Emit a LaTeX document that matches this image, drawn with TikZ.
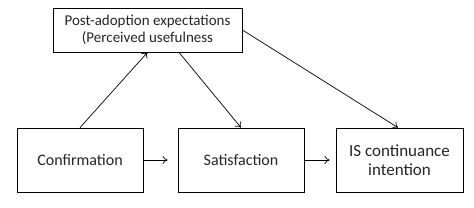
\documentclass[tikz,border=0pt]{standalone}
\usepackage{fontspec}
\setmainfont{Carlito}
\usetikzlibrary{arrows.meta}
\begin{document}
\begin{tikzpicture}[x=1pt,y=1pt,
  box/.style={draw=black, line width=0.8pt, fill=white, align=center, inner sep=2pt,
    font=\fontsize{16}{18}\selectfont, text=black!85},
  conn/.style={line width=0.7pt, -{To[length=5pt,width=8pt]}}]
\useasboundingbox (0,0) rectangle (474,207);
\node[box, minimum width=189pt, minimum height=44pt, font=\fontsize{15}{17.5}\selectfont] (post) at (147.5,177) {Post-adoption expectations\\(Perceived usefulness};
\node[box, minimum width=126pt, minimum height=64pt] (conf) at (80,47) {Confirmation};
\node[box, minimum width=126pt, minimum height=64pt] (sat) at (241,47) {Satisfaction};
\node[box, minimum width=127pt, minimum height=64pt, font=\fontsize{17}{18.5}\selectfont] (is) at (399.5,47) {IS continuance\\intention};
\draw[conn] (conf.north) -- (post.south);
\draw[conn] ([xshift=31.5pt]post.south) -- (sat.north);
\draw[conn] (post.east) -- ([xshift=-1.5pt]is.north);
\draw[conn] (conf.east) -- ([xshift=-10pt]sat.west);
\draw[conn] (sat.east) -- ([xshift=-6pt]is.west);
\end{tikzpicture}
\end{document}
